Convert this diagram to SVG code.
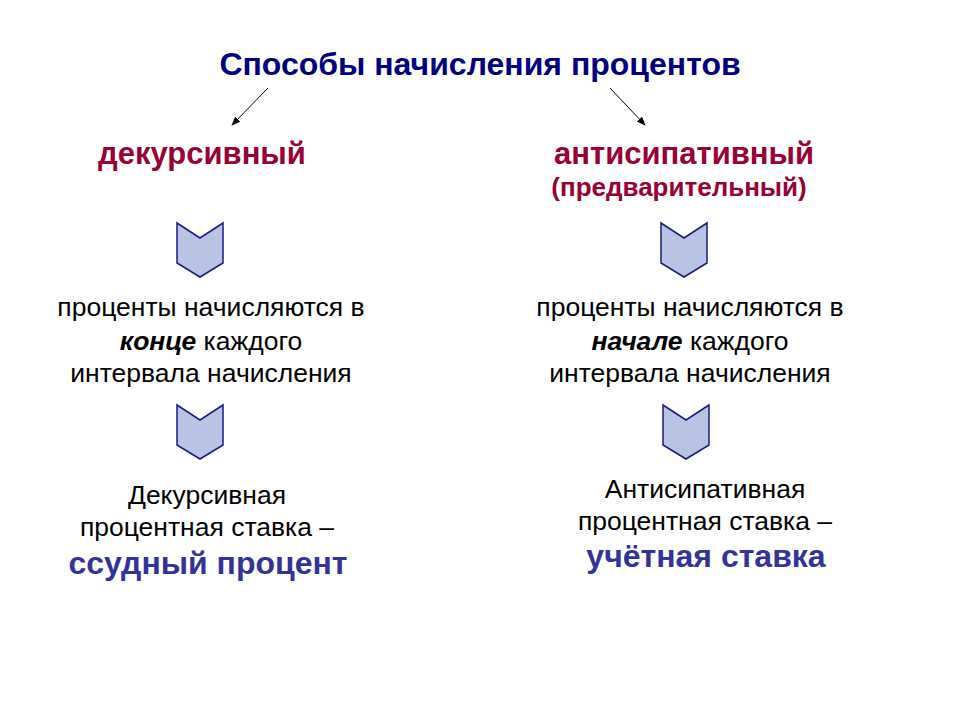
<svg xmlns="http://www.w3.org/2000/svg" width="960" height="720" viewBox="0 0 960 720">
<defs>
<style>
text{font-family:"Liberation Sans",Arial,sans-serif;text-anchor:middle}
.title{font-size:32px;font-weight:bold;fill:#000080}
.kind{font-size:31px;font-weight:bold;fill:#990033}
.sub{font-size:26px;font-weight:bold;fill:#990033}
.body{font-size:26.5px;fill:#000}
.em{font-size:32px;font-weight:bold;fill:#333399}
.chev{fill:#b8c4e4;stroke:#1a1a80;stroke-width:1.5;stroke-linejoin:miter}
.conn{stroke:#000;stroke-width:1;fill:none;marker-end:url(#ah)}
</style>
<marker id="ah" viewBox="0 0 10 10" refX="9" refY="5" markerWidth="9" markerHeight="9" orient="auto" markerUnits="userSpaceOnUse">
<path d="M0,1 L10,5 L0,9 Z" fill="#000"/>
</marker>
<polygon id="chevShape" points="0,0 23,15 46,0 46,40 23,54 0,40"/>
</defs>
<rect width="960" height="720" fill="#fff"/>
<g id="title"><text class="title" x="480" y="75">Способы начисления процентов</text></g>
<g id="connectors">
<line class="conn" x1="268" y1="88" x2="232" y2="125"/>
<line class="conn" x1="610" y1="88" x2="645" y2="125"/>
</g>
<g id="decursive"><text class="kind" x="202" y="164">декурсивный</text></g>
<g id="anticipative"><text class="kind" x="684" y="164">антисипативный</text><text class="sub" x="679" y="196">(предварительный)</text></g>
<g id="chev-l1"><use href="#chevShape" class="chev" x="177" y="223"/></g>
<g id="chev-r1"><use href="#chevShape" class="chev" x="661" y="223"/></g>
<g id="desc-l"><text class="body" x="211" y="316">проценты начисляются в</text><text class="body" x="211" y="350"><tspan font-weight="bold" font-style="italic">конце</tspan> каждого</text><text class="body" x="211" y="382">интервала начисления</text></g>
<g id="desc-r"><text class="body" x="690" y="316">проценты начисляются в</text><text class="body" x="690" y="350"><tspan font-weight="bold" font-style="italic">начале</tspan> каждого</text><text class="body" x="690" y="382">интервала начисления</text></g>
<g id="chev-l2"><use href="#chevShape" class="chev" x="177" y="405"/></g>
<g id="chev-r2"><use href="#chevShape" class="chev" x="663" y="405"/></g>
<g id="rate-l"><text class="body" x="207" y="504">Декурсивная</text><text class="body" x="207" y="536">процентная ставка –</text><text class="em" x="208" y="574">ссудный процент</text></g>
<g id="rate-r"><text class="body" x="705" y="498">Антисипативная</text><text class="body" x="705" y="530">процентная ставка –</text><text class="em" x="706" y="567">учётная ставка</text></g>
</svg>
